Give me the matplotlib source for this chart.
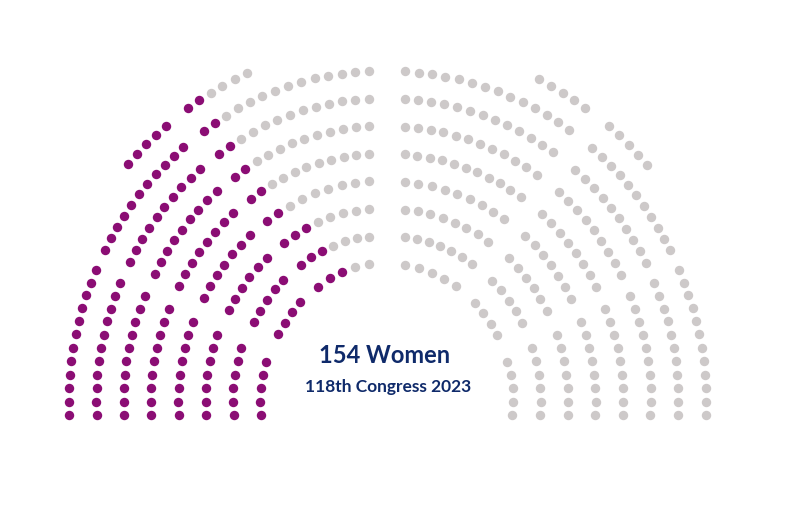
import numpy as np
import matplotlib
matplotlib.use('Agg')
import matplotlib.pyplot as plt

# seats per row, outermost row first (the outermost row only exists in the upper blocks)
left_bottom_seats = [0, 12, 11, 10, 9, 8, 7, 6, 5]
left_mid_seats = [5, 11, 10, 9, 8, 7, 6, 5, 4]
left_top_seats = [6, 14, 13, 12, 11, 9, 8, 7, 5]
right_top_seats = [5, 14, 13, 12, 11, 9, 8, 7, 5]
right_mid_seats = [5, 11, 10, 9, 8, 7, 6, 5, 4]
right_bottom_seats = [0, 12, 11, 10, 9, 8, 7, 6, 5]

# women per row, counted from the low end of each row
left_bottom_women = [0, 12, 11, 10, 9, 8, 7, 6, 5]
left_mid_women = [5, 11, 10, 9, 8, 7, 6, 5, 4]
left_top_women = [2, 2, 2, 2, 2, 2, 3, 3, 3]

title = '154 Women'
subtitle = '118th Congress 2023'

PURPLE = '#8b0d74'
GREY = '#cdc9c9'
NAVY = '#0f2a6a'
ROW_GAP = 27.55
DOT = 46
FONT = 'Lato'


def bottom_angles(n, r, cy):
    # rows all start on the same baseline
    start = -np.arcsin((415 - cy) / r)
    return start + np.arange(n) * 13.5 / r


def mid_angles(n, r, i):
    if i == 0:
        return np.radians(40.2) + np.arange(n) * 13.5 / r
    return np.radians(26) + np.arange(n) * 13.0 / r


def top_angles(n, r, i, low, dx):
    low = np.radians(low)
    if i == 0:
        return low + np.arange(n) * 13.7 / r
    return np.linspace(low, np.arccos(dx / r), n)


def draw_block(ax, seats, women, angles, cx, cy, outer_r, side, gap=ROW_GAP):
    for i, n in enumerate(seats):
        if n == 0:
            continue
        r = outer_r - gap * i
        theta = angles(n, r, i)
        x = cx + side * r * np.cos(theta)
        y = cy - r * np.sin(theta)
        k = women[i]
        ax.scatter(x[:k], y[:k], s=DOT, color=PURPLE, linewidths=0)
        ax.scatter(x[k:], y[k:], s=DOT, color=GREY, linewidths=0)


fig = plt.figure(figsize=(8, 5.18), dpi=100)
ax = fig.add_axes([0, 0, 1, 1])
ax.set_xlim(0, 800)
ax.set_ylim(518, 0)
ax.axis('off')

none = [0] * 9
draw_block(ax, left_bottom_seats, left_bottom_women,
           lambda n, r, i: bottom_angles(n, r, 400), 391, 400, 349.3, -1, gap=27.3)
draw_block(ax, left_mid_seats, left_mid_women,
           lambda n, r, i: mid_angles(n, r, i), 399, 393, 354.6, -1)
draw_block(ax, left_top_seats, left_top_women,
           lambda n, r, i: top_angles(n, r, i, 52.6 - 3 * i / 8, 11), 380, 359, 315.6, -1)
draw_block(ax, right_top_seats, none,
           lambda n, r, i: top_angles(n, r, i, 54, 18), 387, 381, 337.6, 1)
draw_block(ax, right_mid_seats, none,
           lambda n, r, i: mid_angles(n, r, i), 376, 394, 355, 1)
draw_block(ax, right_bottom_seats, none,
           lambda n, r, i: bottom_angles(n, r, 400), 384, 400, 349.5, 1)

ax.text(385, 363, title, ha='center', va='baseline', fontsize=17, fontweight='bold',
        color=NAVY, family=FONT)
ax.text(388, 392, subtitle, ha='center', va='baseline', fontsize=12.5, fontweight='bold',
        color=NAVY, family=FONT)

fig.savefig('out.png', dpi=100)
